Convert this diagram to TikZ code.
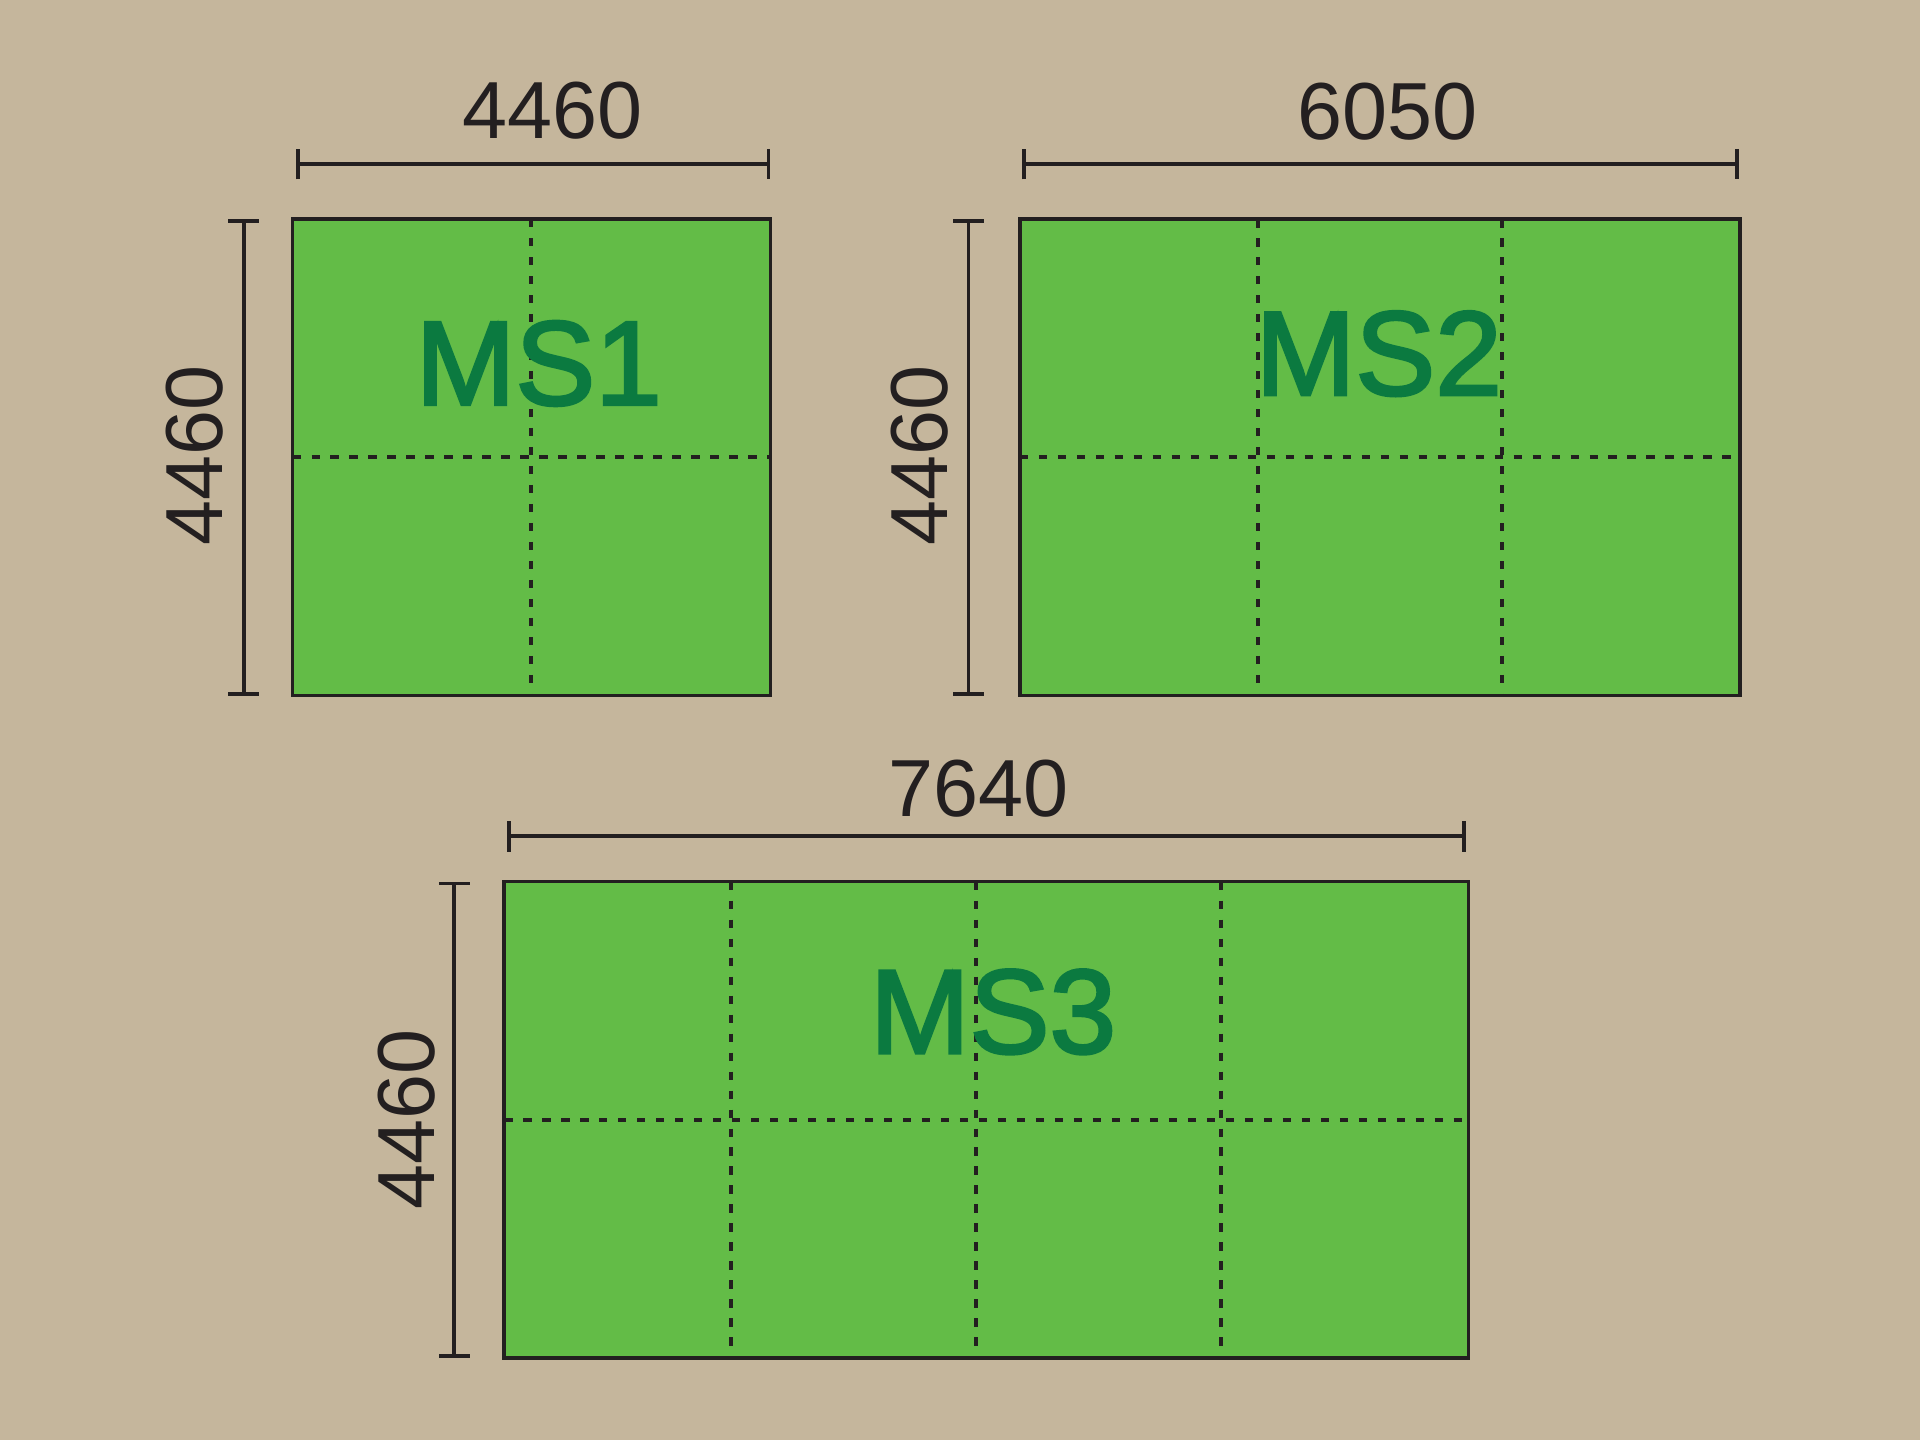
\documentclass[tikz,border=0pt]{standalone}
\usepackage{fontspec}
\setmainfont{Liberation Sans}
\newfontfamily\msfont{Liberation Sans}[FakeBold=2.4]
\usetikzlibrary{arrows.meta,calc}
\definecolor{bgtan}{HTML}{C5B69C}
\definecolor{panelgreen}{HTML}{63BC47}
\definecolor{labelgreen}{HTML}{0B7A40}
\definecolor{inkc}{HTML}{231F20}
\begin{document}
\begin{tikzpicture}[x=0.01cm,y=-0.01cm,
  box/.style={rectangle,draw=inkc,line width=0.85pt,fill=panelgreen,inner sep=0pt,outer sep=0pt},
  cut/.style={draw=inkc,line width=0.95pt,dash pattern=on 0.068cm off 0.087cm},
  dimline/.style={draw=inkc,line width=0.85pt,{Bar[width=0.25cm,line width=0.85pt]}-{Bar[width=0.25cm,line width=0.85pt]}},
  dimtxt/.style={text=inkc,inner sep=0pt,font=\fontsize{18.8pt}{20pt}\selectfont,anchor=base},
  mslabel/.style={text=labelgreen,inner sep=0pt,font=\msfont\fontsize{27.8pt}{29pt}\selectfont,anchor=base}]
\fill[bgtan] (0,0) rectangle (1568,1176);
\useasboundingbox (0,0) rectangle (1568,1176);

% MS1
\node[box,minimum width=3.90cm,minimum height=3.89cm] (ms1) at (434,373.5) {};
\draw[cut] (ms1.north) -- (ms1.south);
\draw[cut] (ms1.west) -- (ms1.east);
\node[mslabel] (ms1t) at (440,330.5) {MS1};

% MS2
\node[box,minimum width=5.88cm,minimum height=3.89cm] (ms2) at (1127,373.5) {};
\coordinate (ms2a1) at (1027,179); \coordinate (ms2a2) at (1027,568);
\coordinate (ms2b1) at (1227,179); \coordinate (ms2b2) at (1227,568);
\draw[cut] (ms2a1) -- (ms2a2);
\draw[cut] (ms2b1) -- (ms2b2);
\draw[cut] (ms2.west) -- (ms2.east);
\node[mslabel] (ms2t) at (1126,322.5) {MS2};

% MS3
\node[box,minimum width=7.87cm,minimum height=3.89cm] (ms3) at (805.5,914.5) {};
\coordinate (ms3a1) at (597,720); \coordinate (ms3a2) at (597,1109);
\coordinate (ms3b1) at (797,720); \coordinate (ms3b2) at (797,1109);
\coordinate (ms3c1) at (997,720); \coordinate (ms3c2) at (997,1109);
\draw[cut] (ms3a1) -- (ms3a2);
\draw[cut] (ms3b1) -- (ms3b2);
\draw[cut] (ms3c1) -- (ms3c2);
\draw[cut] (ms3.west) -- (ms3.east);
\node[mslabel] (ms3t) at (811,860) {MS3};

% dimensions MS1
\coordinate (h1a) at (242,134); \coordinate (h1b) at (629,134);
\draw[dimline] (h1a) -- (h1b);
\node[dimtxt] (h1t) at (451,113.5) {4460};
\coordinate (v1a) at (199,179); \coordinate (v1b) at (199,568);
\draw[dimline] (v1a) -- (v1b);
\node[dimtxt,rotate=90] (v1t) at (182,372) {4460};

% dimensions MS2
\coordinate (h2a) at (835,134); \coordinate (h2b) at (1420,134);
\draw[dimline] (h2a) -- (h2b);
\node[dimtxt] (h2t) at (1133,114) {6050};
\coordinate (v2a) at (791,179); \coordinate (v2b) at (791,568);
\draw[dimline] (v2a) -- (v2b);
\node[dimtxt,rotate=90] (v2t) at (773.5,372) {4460};

% dimensions MS3
\coordinate (h3a) at (414,683); \coordinate (h3b) at (1197,683);
\draw[dimline] (h3a) -- (h3b);
\node[dimtxt] (h3t) at (799,666.5) {7640};
\coordinate (v3a) at (371,720); \coordinate (v3b) at (371,1109);
\draw[dimline] (v3a) -- (v3b);
\node[dimtxt,rotate=90] (v3t) at (354.5,914) {4460};
\end{tikzpicture}
\end{document}
